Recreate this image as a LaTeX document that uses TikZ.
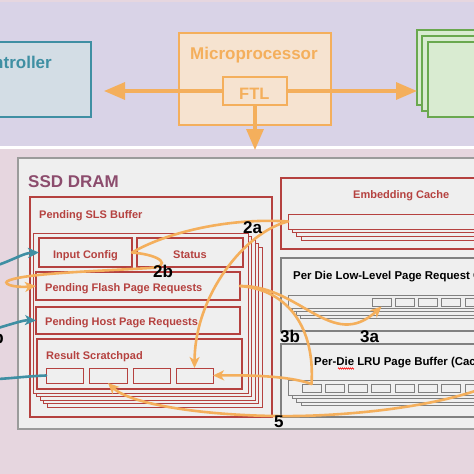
\documentclass[tikz,border=0pt]{standalone}
\usepackage{fontspec}
\setmainfont{Liberation Sans}
\usetikzlibrary{arrows.meta,decorations.pathmorphing}
\definecolor{lav}{HTML}{D9D3E7}
\definecolor{pinkbg}{HTML}{E6D6DF}
\definecolor{dramfill}{HTML}{EFEFEF}
\definecolor{dramline}{HTML}{9B9B9B}
\definecolor{redA}{HTML}{B5413F}
\definecolor{orng}{HTML}{F4AF5C}
\definecolor{peach}{HTML}{F6E3D0}
\definecolor{tealA}{HTML}{3F8FA3}
\definecolor{ctrlfill}{HTML}{D3DDE5}
\definecolor{grn}{HTML}{6AA84F}
\definecolor{grnfill}{HTML}{D9EBD1}
\definecolor{mauve}{HTML}{8C4C6D}
\definecolor{gline}{HTML}{808080}
\begin{document}
\begin{tikzpicture}[x=1pt,y=-1pt,
  bx/.style={anchor=north west, inner sep=0pt, outer sep=0pt},
  rbox/.style={bx, draw=redA, line width=1.5pt, fill=dramfill},
  rthin/.style={bx, draw=redA, line width=0.8pt, fill=dramfill},
  gbox/.style={bx, draw=gline, line width=1.5pt, fill=dramfill},
  gthin/.style={bx, draw=gline, line width=0.8pt, fill=dramfill},
  txt/.style={inner sep=0pt, font=\bfseries\fontsize{11}{13}\selectfont},
  rtxt/.style={txt, text=redA},
  ktxt/.style={inner sep=0pt, text=black, font=\bfseries\fontsize{11.4}{13}\selectfont},
  lbl/.style={inner sep=0pt, anchor=base west, font=\bfseries\fontsize{17}{19}\selectfont},
  orline/.style={draw=orng, line width=2.6pt, line cap=round},
  orarrow/.style={orline, -{Stealth[length=11pt,width=10pt,inset=3pt]}},
  tlline/.style={draw=tealA, line width=2.6pt, line cap=round},
  tlarrow/.style={tlline, -{Stealth[length=11pt,width=10pt,inset=3pt]}},
  bigarrow/.style={draw=orng, line width=3.3pt, -{Triangle[length=21pt,width=17pt]}}
]
\useasboundingbox (0,0) rectangle (474,474);
\clip (0,0) rectangle (474,474);
% backgrounds
\fill[pinkbg] (0,0) rectangle (474,474);
\fill[lav] (0,2) rectangle (474,146);
\fill[white] (0,146) rectangle (474,149);

% top band
\node[bx, draw=tealA, fill=ctrlfill, line width=1.6pt, minimum width=110pt, minimum height=75pt] (ctrl) at (-19,42) {};
\node[inner sep=0pt, anchor=base east, text=tealA, font=\bfseries\fontsize{17}{19}\selectfont] (ctrlt) at (52,68) {Controller};
\node[bx, draw=orng, fill=peach, line width=1.6pt, minimum width=152pt, minimum height=92pt] (mp) at (179,33) {};
\node[inner sep=0pt, anchor=base west, text=orng, font=\bfseries\fontsize{17}{19}\selectfont] (mpt) at (190,59) {Microprocessor};
\node[bx, draw=orng, fill=peach, line width=1.6pt, minimum width=64pt, minimum height=28pt] (ftl) at (223,77) {};
\node[inner sep=0pt, anchor=base west, text=orng, font=\bfseries\fontsize{16.5}{19}\selectfont] (ftlt) at (239,99) {FTL};
\node[bx, draw=grn, fill=grnfill, line width=1.6pt, minimum width=80pt, minimum height=75pt] (g1) at (417,30) {};
\node[bx, draw=grn, fill=grnfill, line width=1.6pt, minimum width=80pt, minimum height=75pt] (g2) at (422,36) {};
\node[bx, draw=grn, fill=grnfill, line width=1.6pt, minimum width=80pt, minimum height=75pt] (g3) at (428,42) {};

\draw[bigarrow, shorten >=13pt] (ftl.west) -- (ftl.west -| ctrl.east);
\draw[bigarrow] (ftl.east) -- (ftl.east -| g1.west);

% SSD DRAM
\node[bx, draw=dramline, fill=dramfill, line width=1.6pt, minimum width=480pt, minimum height=271pt] (dram) at (18,158) {};
\draw[bigarrow, shorten >=8pt] (ftl.south) -- (ftl.south |- dram.north);
\node[inner sep=0pt, anchor=base west, text=mauve, font=\bfseries\fontsize{17}{19}\selectfont] (dramt) at (28,187) {SSD DRAM};

% Pending SLS Buffer
\node[rbox, minimum width=242pt, minimum height=220pt] (sls) at (30,197) {};
\node[rtxt, anchor=base west] (slst) at (39,218) {Pending SLS Buffer};
\foreach \k in {4,3,2,1,0} {
  \node[rthin, line width=0.7pt, minimum width=215pt, minimum height=160pt] (pan\k) at ({33+3.6*\k},{233+3.5*\k}) {};
}
\node[rbox, minimum width=93pt, minimum height=29pt] (ic) at (39,238) {};
\node[rtxt, anchor=base] (ict) at (85.5,258) {Input Config};
\node[rbox, minimum width=106pt, minimum height=29pt] (st) at (137,238) {};
\node[rtxt, anchor=base] (stt) at (190,258) {Status};
\node[rbox, minimum width=204pt, minimum height=28pt] (pf) at (36,272) {};
\node[rtxt, anchor=base west] (pft) at (45,291) {Pending Flash Page Requests};
\node[rbox, minimum width=204pt, minimum height=27pt] (ph) at (36,307) {};
\node[rtxt, anchor=base west] (pht) at (45,325) {Pending Host Page Requests};
\node[rbox, minimum width=205pt, minimum height=50pt] (rs) at (37,339) {};
\node[rtxt, anchor=base west] (rst) at (46,359) {Result Scratchpad};
\node[rthin, line width=1pt, minimum width=37pt, minimum height=15pt] (rs1) at (46,368) {};
\node[rthin, line width=1pt, minimum width=38pt, minimum height=15pt] (rs2) at (89,368) {};
\node[rthin, line width=1pt, minimum width=37pt, minimum height=15pt] (rs3) at (133,368) {};
\node[rthin, line width=1pt, minimum width=37pt, minimum height=15pt] (rs4) at (176,368) {};

% Embedding cache
\node[rbox, minimum width=210pt, minimum height=71pt] (ec) at (281,178) {};
\node[rtxt, anchor=base west] (ect) at (353,198) {Embedding Cache};
\foreach \k in {3,2,1} {
  \node[rthin, minimum width=200pt, minimum height=15pt] (ecs\k) at ({288+4.3*\k},{214+3.7*\k}) {};
}
\node[rthin, minimum width=200pt, minimum height=15pt] (ecs) at (288,214) {};

% Per Die Low-Level Page Request Queue
\node[gbox, minimum width=210pt, minimum height=73pt] (lq) at (281,258) {};
\node[ktxt, anchor=base west] (lqt) at (293,279) {Per Die Low-Level Page Request Queue};
\foreach \k in {3,2,1} {
  \node[gthin, minimum width=200pt, minimum height=13pt] (lqs\k) at ({288+4*\k},{295+3.6*\k}) {};
}
\node[gthin, minimum width=200pt, minimum height=13pt] (lqs) at (288,295) {};
\foreach \i in {1,...,5} {
  \node[gthin, line width=1pt, minimum width=19pt, minimum height=8pt] (lq\i) at ({372+23.3*(\i-1)},298.5) {};
}

% Per-Die LRU Page Buffer
\node[gbox, minimum width=210pt, minimum height=73pt] (lru) at (281,344) {};
\node[ktxt, anchor=base west] (lrut) at (314,365) {Per-Die LRU Page Buffer (Cache)};
\draw[red, line width=0.5pt, decorate, decoration={zigzag, amplitude=0.7pt, segment length=2pt}] (338,368.5) -- (354,368.5);
\foreach \k in {3,2,1} {
  \node[gthin, minimum width=200pt, minimum height=15pt] (lrus\k) at ({288+4.3*\k},{380+3.6*\k}) {};
}
\node[gthin, minimum width=200pt, minimum height=15pt] (lrus) at (288,380) {};
\foreach \i in {1,...,8} {
  \node[gthin, line width=1pt, minimum width=19pt, minimum height=8pt] (lru\i) at ({302+23.3*(\i-1)},384) {};
}

% teal arrows from the left
\coordinate (tA) at (-2,265);
\coordinate (tB) at (-2,328);
\coordinate (tC) at (-2,379);
\draw[tlarrow] (tA) .. controls (15,259) and (24,253) .. (ic.west);
\draw[tlarrow] (tB) .. controls (15,323) and (24,320) .. (ph.west);
\draw[tlline] (tC) .. controls (15,378) and (30,376) .. (rs1.west);

% orange connectors
\draw[orline] (ic.east) .. controls (175,228) and (240,218) .. (ecs.west);
\draw[orarrow] (ecs.west) .. controls (245,232) and (195,295) .. (rs4.north);
\coordinate (b1) at (150,268);
\coordinate (b2) at (10,280);
\draw[orarrow] (ic.east) .. controls (162,255) and (172,266) .. (b1)
   .. controls (100,271) and (30,273) .. (b2)
   .. controls (0,283) and (12,288) .. (pf.west);
\draw[orarrow] (pf.east) .. controls (300,285) and (332,352) .. (lq1.south);
\draw[orline] (pf.east) .. controls (290,290) and (315,330) .. (lru1.north);
\draw[orarrow] (lru1.north) .. controls (290,376) and (250,375) .. (rs4.east);
\coordinate (f5) at (478,390);
\coordinate (m5) at (275,416);
\draw[orarrow] (f5) .. controls (420,410) and (330,417) .. (m5)
   .. controls (200,415) and (130,404) .. (rs2.south);

% step labels
\node[lbl] (l2a) at (243,233) {2a};
\node[lbl] (l2b) at (153,277) {2b};
\node[lbl] (l3b) at (280,342) {3b};
\node[lbl] (l3a) at (360,342) {3a};
\node[lbl] (l5) at (274,427) {5};
\node[lbl, anchor=base east] (l1b) at (4,343) {b};
\end{tikzpicture}
\end{document}
